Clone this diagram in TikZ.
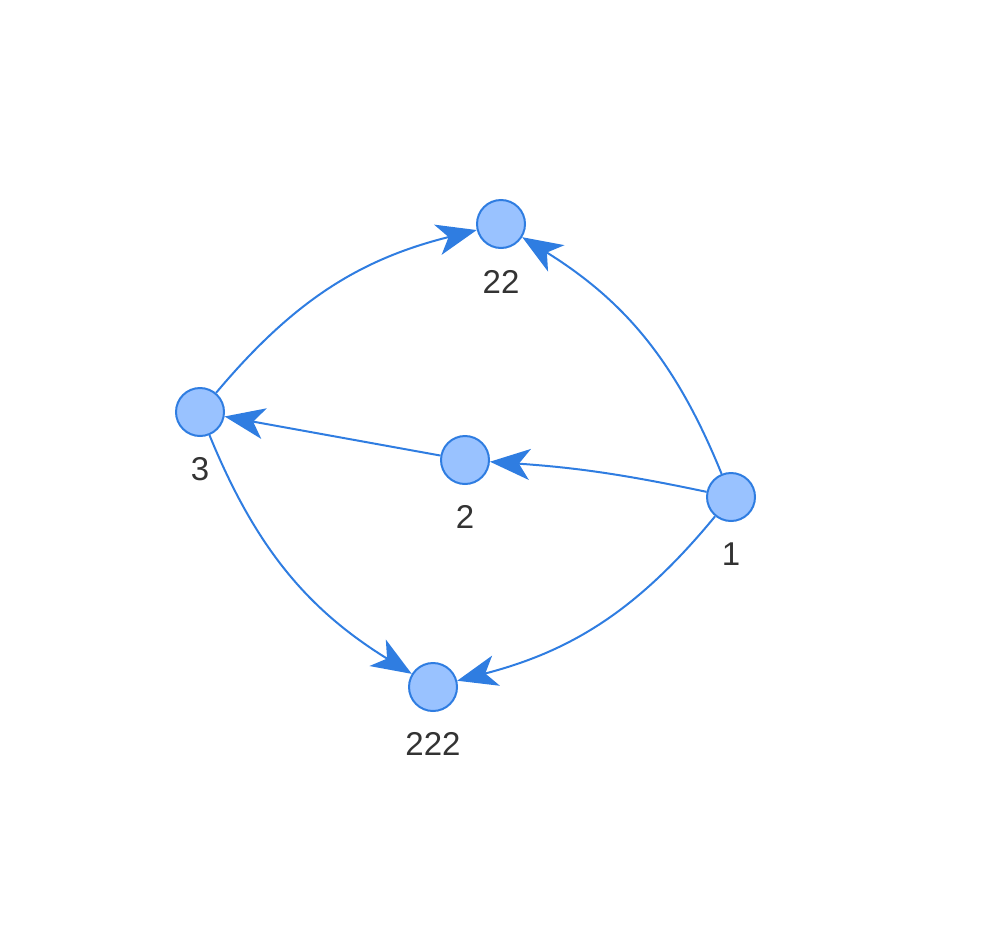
\documentclass[tikz,border=0pt]{standalone}
\usepackage{fontspec}
\setmainfont{Liberation Sans}
\usetikzlibrary{arrows.meta}
\definecolor{nodefill}{HTML}{99C2FF}
\definecolor{edgeblue}{HTML}{2F7DE1}
\definecolor{labelgrey}{HTML}{333333}
\tikzset{
  vertex/.style={circle, draw=edgeblue, fill=nodefill, line width=2pt, minimum size=48pt, inner sep=0pt},
  vlabel/.style={text=labelgrey, font=\fontsize{33}{40}\selectfont},
  link/.style={draw=edgeblue, line width=2pt, -{Stealth[length=40pt, width=31pt, inset=11pt]}}
}
\begin{document}
\begin{tikzpicture}[x=1pt, y=-1pt]
    \useasboundingbox (0,0) rectangle (987,937);
    % vertices
    \node[vertex] (n22) at (501,224) {};
    \node[vertex] (n3) at (200,412) {};
    \node[vertex] (n2) at (465,460) {};
    \node[vertex] (n1) at (731,497) {};
    \node[vertex] (n222) at (433,687) {};
    % labels
    \node[vlabel] (t22) at (501,282) {22};
    \node[vlabel] (t3) at (200,469) {3};
    \node[vlabel] (t2) at (465,517) {2};
    \node[vlabel] (t1) at (731,554) {1};
    \node[vlabel] (t222) at (433,744) {222};
    % edges
    \draw[link] (n1) to[bend right=18] (n22);
    \draw[link] (n1) to[bend right=4] (n2);
    \draw[link] (n2) -- (n3);
    \draw[link] (n3) to[bend left=18] (n22);
    \draw[link] (n3) to[bend right=18] (n222);
    \draw[link] (n1) to[bend left=18] (n222);
  \end{tikzpicture}
\end{document}
